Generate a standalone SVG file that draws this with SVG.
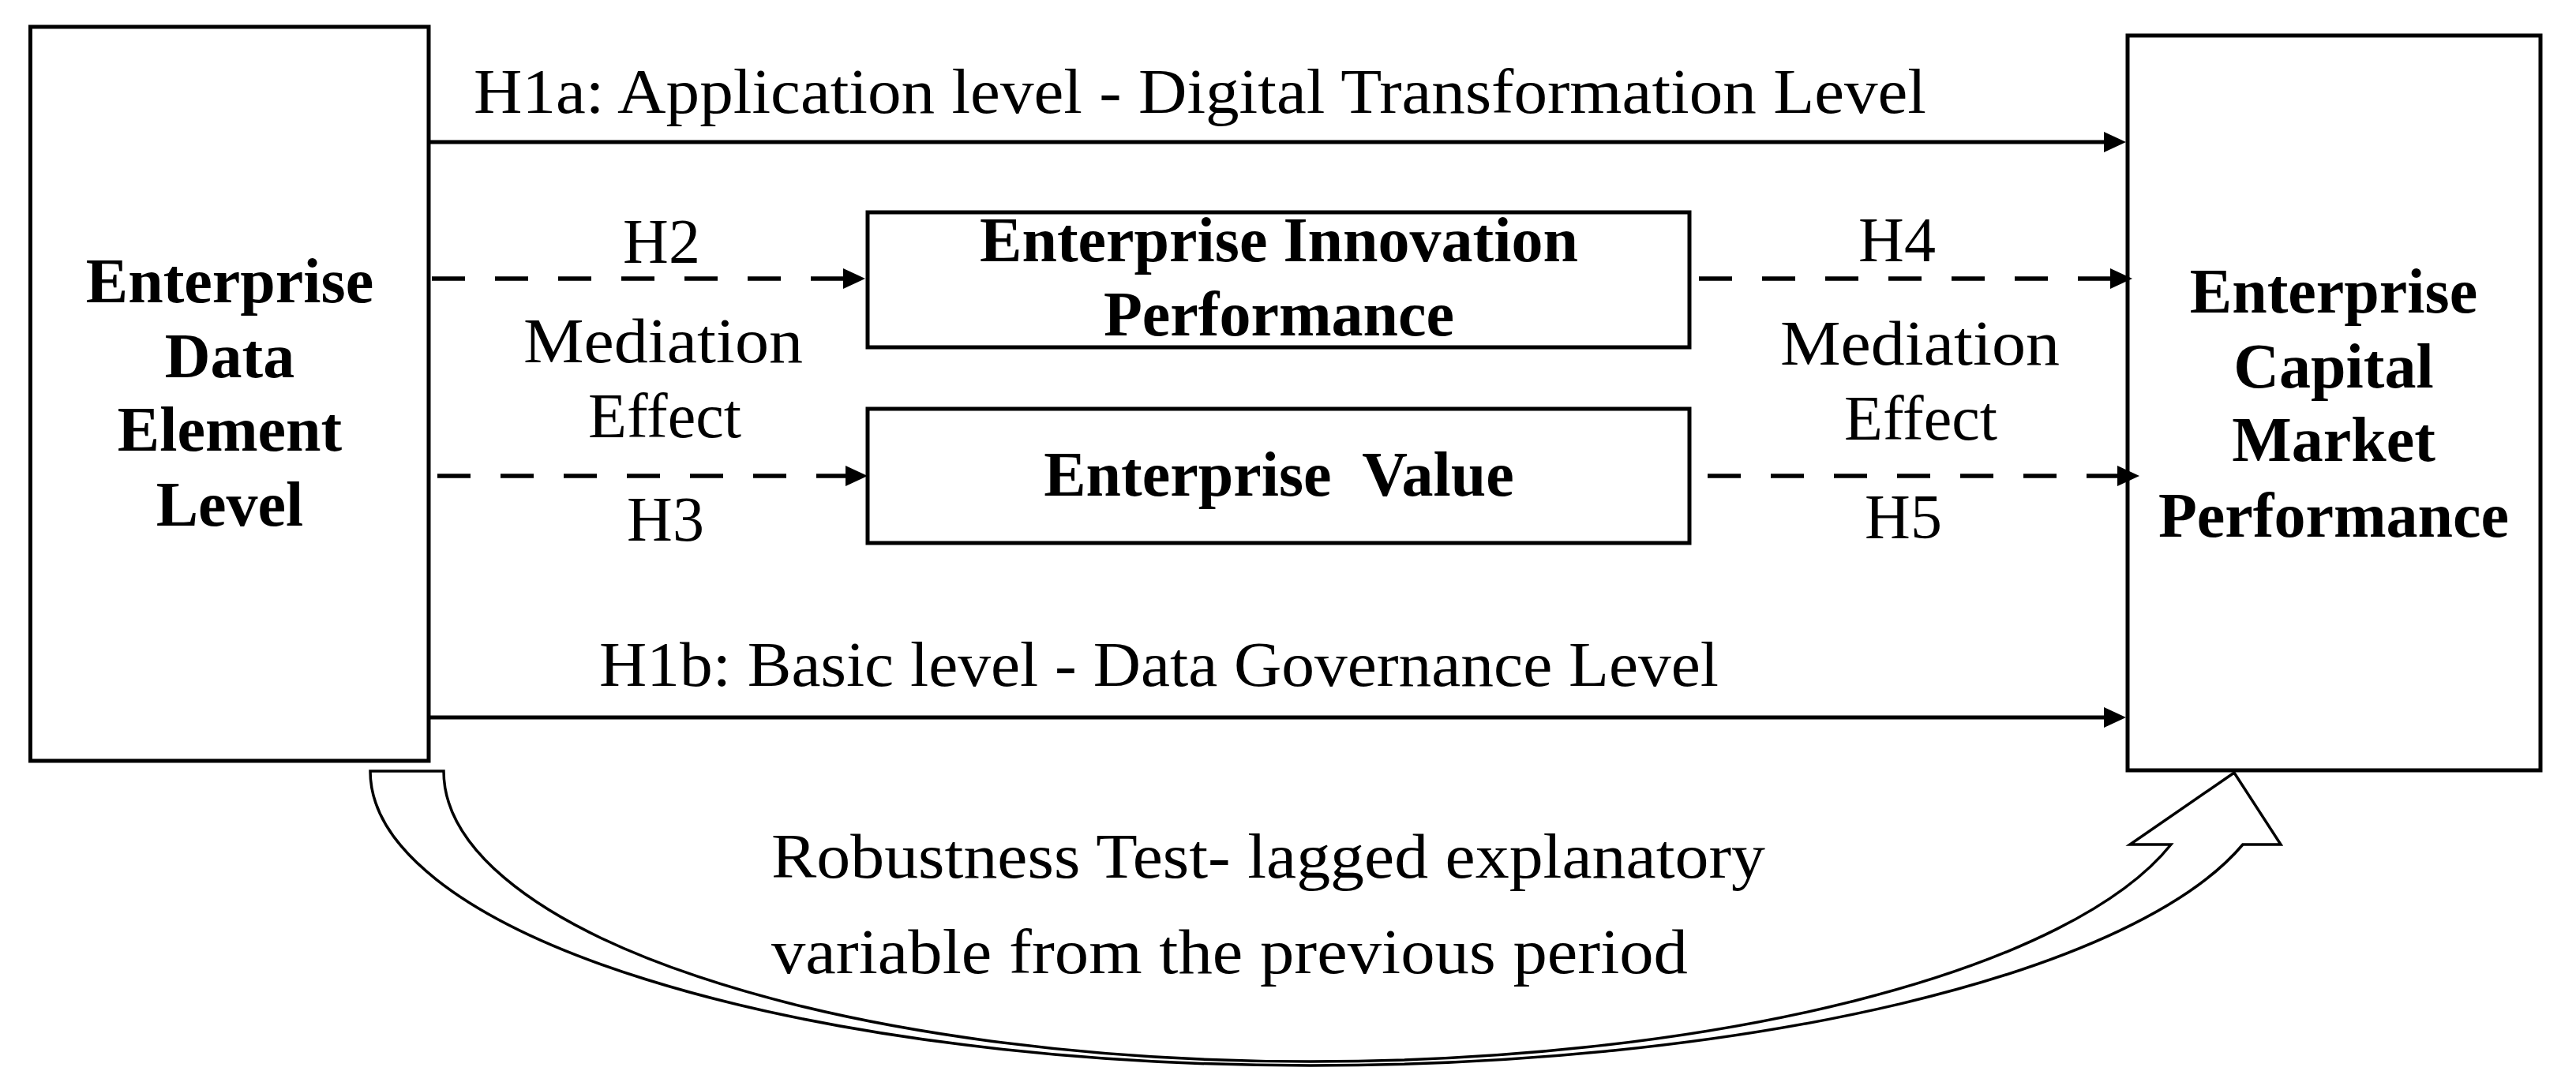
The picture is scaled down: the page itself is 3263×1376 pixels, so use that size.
<svg xmlns="http://www.w3.org/2000/svg" width="3263" height="1376" viewBox="0 0 3263 1376">
<style>
  .box { fill: #fff; stroke: #000; stroke-width: 5; }
  .t { font-family: "Liberation Serif", "Times New Roman", serif; font-size: 80px; fill: #000; }
  .b { font-weight: bold; text-anchor: middle; }
  .m { text-anchor: middle; }
  .solid { fill: none; stroke: #000; stroke-width: 5; }
  .dash { fill: none; stroke: #000; stroke-width: 5.5; stroke-dasharray: 42 38; }
  .curve { fill: #fff; stroke: #000; stroke-width: 3.5; stroke-linejoin: miter; }
</style>
<defs>
  <marker id="ah" markerUnits="userSpaceOnUse" markerWidth="30" markerHeight="30" viewBox="0 -15 30 30" refX="8" refY="0" orient="auto">
    <path d="M0,-13 L28,0 L0,13 Z" fill="#000"/>
  </marker>
</defs>
<rect width="3263" height="1376" fill="#fff"/>

<g id="node-data-element">
  <rect class="box" x="38.5" y="34" width="504.5" height="930"/>
  <text class="t b" x="291" y="383">Enterprise</text>
  <text class="t b" x="291" y="478">Data</text>
  <text class="t b" x="291" y="571">Element</text>
  <text class="t b" x="291" y="666">Level</text>
</g>

<g id="node-capital-market">
  <rect class="box" x="2695" y="45" width="523" height="931"/>
  <text class="t b" x="2956" y="396">Enterprise</text>
  <text class="t b" x="2956" y="491">Capital</text>
  <text class="t b" x="2956" y="584">Market</text>
  <text class="t b" x="2956" y="680">Performance</text>
</g>

<g id="node-innovation">
  <rect class="box" x="1099" y="269" width="1041" height="171"/>
  <text class="t b" x="1620" y="331">Enterprise Innovation</text>
  <text class="t b" x="1620" y="425">Performance</text>
</g>

<g id="node-value">
  <rect class="box" x="1099" y="518" width="1041" height="170"/>
  <text class="t b" x="1620" y="628" xml:space="preserve">Enterprise  Value</text>
</g>

<g id="connectors">
  <path class="solid" d="M543,180 H2673" marker-end="url(#ah)"/>
  <path class="solid" d="M545,909 H2673" marker-end="url(#ah)"/>
  <path class="dash" d="M547,353 H1076" marker-end="url(#ah)"/>
  <path class="dash" d="M554,603 H1079" marker-end="url(#ah)"/>
  <path class="dash" d="M2152,353 H2681" marker-end="url(#ah)"/>
  <path class="dash" d="M2163,603 H2690" marker-end="url(#ah)"/>
  <path id="robustness-arrow" class="curve" d="M469,977 L562,977 A1098 368 0 0 0 1660,1345 A1127 368 0 0 0 2750,1070 L2698,1070 L2830,979 L2889,1070 L2841,1070 A1219 373 0 0 1 1660,1350 A1191 373 0 0 1 469,977 Z"/>
</g>

<g id="labels">
  <text class="t" x="600" y="143" textLength="1840" lengthAdjust="spacingAndGlyphs">H1a: Application level - Digital Transformation Level</text>
  <text class="t" x="759" y="869" textLength="1418" lengthAdjust="spacingAndGlyphs">H1b: Basic level - Data Governance Level</text>
  <text class="t m" x="838" y="333">H2</text>
  <text class="t m" x="840" y="459" textLength="354" lengthAdjust="spacingAndGlyphs">Mediation</text>
  <text class="t m" x="842" y="554">Effect</text>
  <text class="t m" x="843" y="685">H3</text>
  <text class="t m" x="2403" y="331">H4</text>
  <text class="t m" x="2432" y="462" textLength="354" lengthAdjust="spacingAndGlyphs">Mediation</text>
  <text class="t m" x="2433" y="557">Effect</text>
  <text class="t m" x="2411" y="682">H5</text>
  <text class="t" x="977" y="1112" textLength="1259" lengthAdjust="spacingAndGlyphs">Robustness Test- lagged explanatory</text>
  <text class="t" x="977" y="1233" textLength="1161" lengthAdjust="spacingAndGlyphs">variable from the previous period</text>
</g>
</svg>
